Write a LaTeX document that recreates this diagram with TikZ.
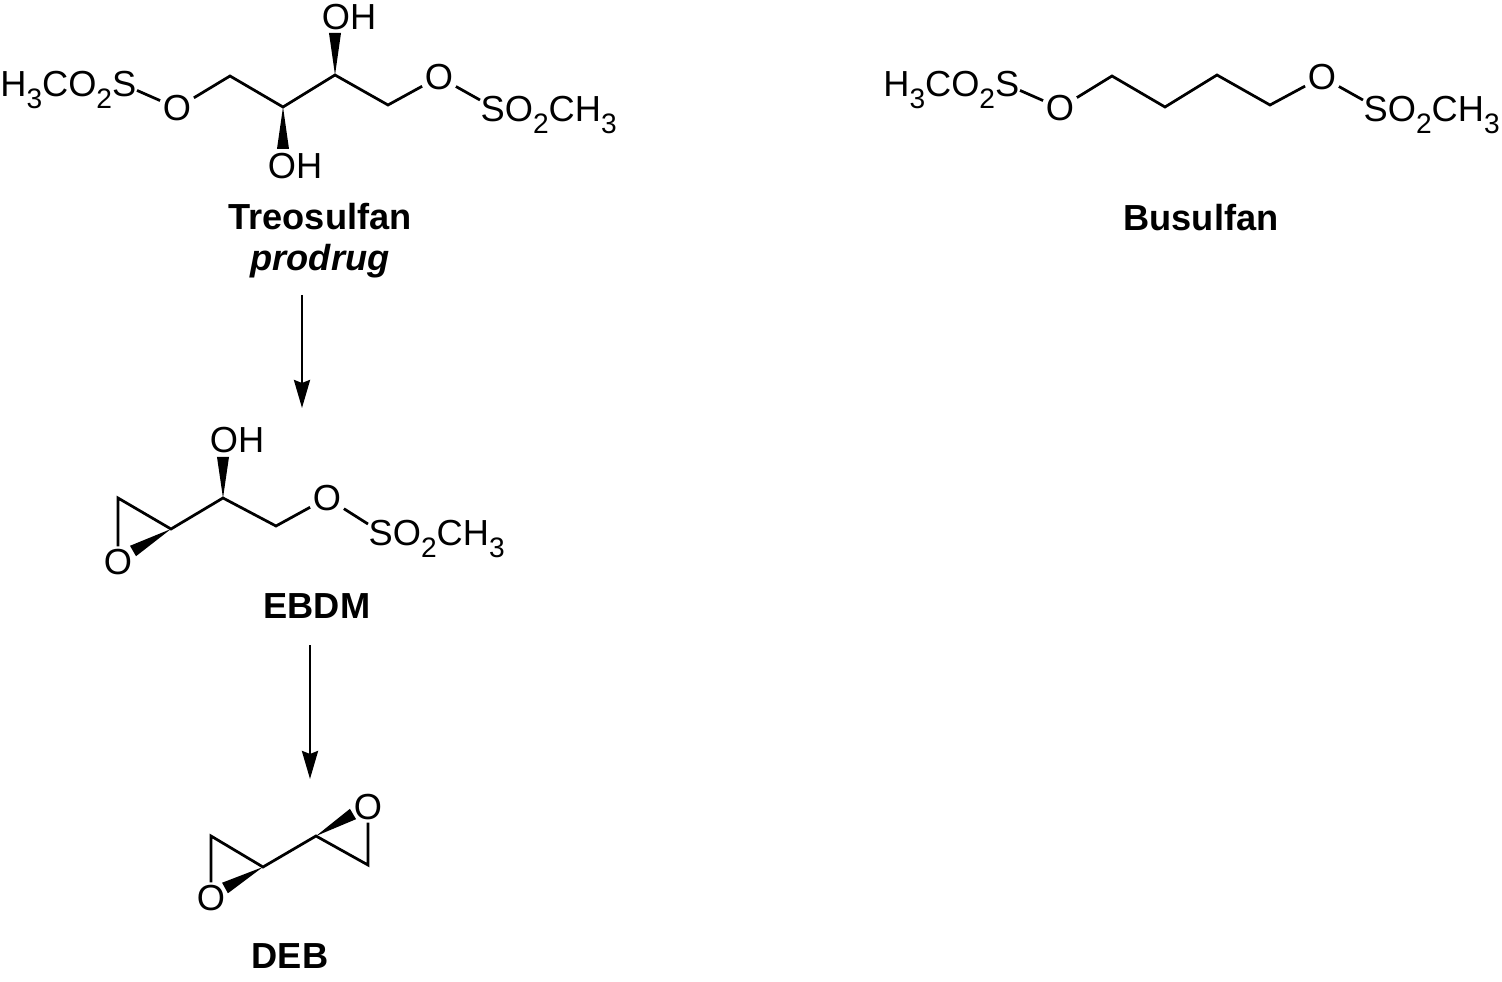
\documentclass[tikz,border=0pt]{standalone}
\usepackage{fontspec}
\setmainfont{Liberation Sans}
\usetikzlibrary{arrows.meta}
\usetikzlibrary{calc}

\newcommand{\subn}[1]{\raisebox{-0.62ex}{\fontsize{8.0}{9}\selectfont #1}}
\newcommand{\wedgebond}[2]{\fill (#1) -- ($(#2)!0.06cm!90:(#1)$) -- ($(#2)!0.06cm!-90:(#1)$) -- cycle;}

\tikzset{
  atom/.style={inner sep=0.6pt},
  chain/.style={inner sep=0pt},
  bond/.style={line width=0.78pt},
  title/.style={inner sep=0pt, font=\fontsize{10.3}{12}\selectfont\bfseries},
  reaction/.style={line width=0.78pt, -{Stealth[length=0.28cm, width=0.16cm, inset=0.03cm]}}
}

\begin{document}
\begin{tikzpicture}[x=0.01cm, y=-0.01cm, font=\fontsize{10.3}{12}\selectfont]
\useasboundingbox (0, 0) rectangle (1502, 982);

% Treosulfan
\draw (137,  97) node[chain, anchor=base east] (tsl) {H\subn{3}CO\subn{2}S};
\draw (177, 108) node[atom] (tol) {O};
\coordinate (tc1) at (230,  76);
\coordinate (tc2) at (283, 107);
\coordinate (tc3) at (335,  75);
\coordinate (tc4) at (388, 105);
\draw (439,  77) node[atom] (tor) {O};
\draw (480, 122) node[chain, anchor=base west] (tsr) {SO\subn{2}CH\subn{3}};
\draw (349,  17) node[chain] (toht) {OH};
\draw (295, 166) node[chain] (tohb) {OH};
\coordinate (twt) at (335,  33);
\coordinate (twb) at (283, 149);

\draw[bond] (tsl.east) -- (tol);
\draw[bond] (tol) -- (tc1) -- (tc2) -- (tc3) -- (tc4) -- (tor);
\draw[bond] (tor) -- ([yshift=-0.04cm]tsr.north west);
\wedgebond{tc3}{twt}
\wedgebond{tc2}{twb}

\draw (320, 217) node[title] (treo) {Treosulfan};
\draw (320, 261) node[title] (prod) {\itshape prodrug};

% Busulfan
\draw (1020,  97) node[chain, anchor=base east] (bsl) {H\subn{3}CO\subn{2}S};
\draw (1060, 108) node[atom] (bol) {O};
\coordinate (bc1) at (1112,  76);
\coordinate (bc2) at (1165, 107);
\coordinate (bc3) at (1217,  75);
\coordinate (bc4) at (1270, 105);
\draw (1322,  77) node[atom] (bor) {O};
\draw (1363, 122) node[chain, anchor=base west] (bsr) {SO\subn{2}CH\subn{3}};

\draw[bond] (bsl.east) -- (bol);
\draw[bond] (bol) -- (bc1) -- (bc2) -- (bc3) -- (bc4) -- (bor);
\draw[bond] (bor) -- ([yshift=-0.04cm]bsr.north west);

\draw (1201, 218) node[title] (busu) {Busulfan};

% first arrow
\coordinate (a1s) at (302, 295);
\coordinate (a1e) at (302, 408);
\draw[reaction] (a1s) -- (a1e);

% EBDM
\draw (118, 562) node[atom] (eol) {O};
\coordinate (ec1) at (118, 498);
\coordinate (ec2) at (171, 529);
\coordinate (ec3) at (223, 498);
\coordinate (ec4) at (276, 526);
\draw (327, 498) node[atom] (eor) {O};
\draw (368, 546) node[chain, anchor=base west] (esr) {SO\subn{2}CH\subn{3}};
\draw (237, 440) node[chain] (eoh) {OH};
\coordinate (ewt) at (223, 457);
\coordinate (ewo) at (133, 551);

\draw[bond] (eol) -- (ec1) -- (ec2) -- (ec3) -- (ec4) -- (eor);
\draw[bond] (eor) -- ([yshift=-0.04cm]esr.north west);
\wedgebond{ec2}{ewo}
\wedgebond{ec3}{ewt}

\draw (317, 606) node[title] (ebdm) {EBDM};

% second arrow
\coordinate (a2s) at (310, 645);
\coordinate (a2e) at (310, 779);
\draw[reaction] (a2s) -- (a2e);

% DEB
\draw (211, 898) node[atom] (dol) {O};
\coordinate (dc1) at (211, 836);
\coordinate (dc2) at (263, 867);
\coordinate (dc3) at (316, 836);
\coordinate (dc4) at (368, 865);
\draw (368, 807) node[atom] (dor) {O};
\coordinate (dwl) at (225, 888);
\coordinate (dwr) at (353, 814);

\draw[bond] (dol) -- (dc1) -- (dc2) -- (dc3) -- (dc4) -- (dor);
\wedgebond{dc2}{dwl}
\wedgebond{dc3}{dwr}

\draw (290, 956) node[title] (deb) {DEB};

\end{tikzpicture}
\end{document}
